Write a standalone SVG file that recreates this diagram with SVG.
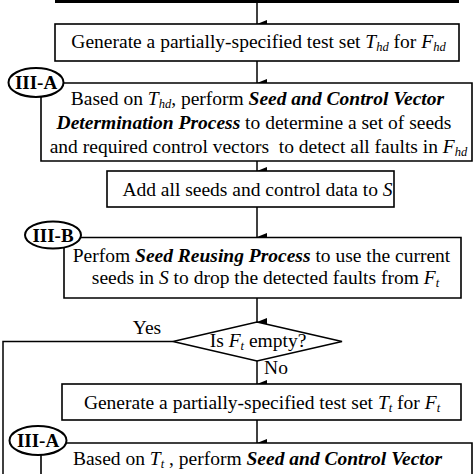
<svg xmlns="http://www.w3.org/2000/svg" width="474" height="474" viewBox="0 0 474 474">
<defs>
<marker id="ah" viewBox="0 0 8 10" refX="4" refY="10" markerWidth="8" markerHeight="10" markerUnits="userSpaceOnUse" orient="auto-start-reverse">
<path d="M0,0 L8,0 L4,10 Z" fill="#000"/>
</marker>
</defs>
<style>
.box{fill:#fff;stroke:#000;stroke-width:1.6}
.ln{fill:none;stroke:#000;stroke-width:1.5}
.ell{fill:#fff;stroke:#000;stroke-width:2}
.t{font-family:"Liberation Serif","Times New Roman",serif;font-size:19.5px;fill:#000;text-anchor:middle}
.lb{font-family:"Liberation Serif","Times New Roman",serif;font-size:19px;font-weight:bold;fill:#000;text-anchor:middle}
.i{font-style:italic}
.bi{font-style:italic;font-weight:bold}
.s{font-style:italic;font-size:12.5px}
</style>
<rect x="55" y="0" width="404" height="3" fill="#000"/>
<g id="connectors">
<line class="ln" x1="257" y1="3" x2="257" y2="24" marker-end="url(#ah)"/>
<line class="ln" x1="257" y1="61" x2="257" y2="83" marker-end="url(#ah)"/>
<line class="ln" x1="257" y1="161" x2="257" y2="171" marker-end="url(#ah)"/>
<line class="ln" x1="257" y1="207" x2="257" y2="237" marker-end="url(#ah)"/>
<line class="ln" x1="257" y1="298" x2="257" y2="322" marker-end="url(#ah)"/>
<line class="ln" x1="257" y1="361" x2="257" y2="384" marker-end="url(#ah)"/>
<line class="ln" x1="257" y1="420" x2="257" y2="443" marker-end="url(#ah)"/>
<polyline class="ln" points="173,341.5 3,341.5 3,474"/>
<text class="t" x="147" y="334">Yes</text>
<text class="t" x="276" y="374">No</text>
</g>
<g id="gen-thd">
<rect class="box" x="55" y="24" width="404" height="37"/>
<text class="t" x="258.5" y="48">Generate a partially-specified test set <tspan class="i">T</tspan><tspan class="s" dy="3">hd</tspan><tspan dy="-3"> for </tspan><tspan class="i">F</tspan><tspan class="s" dy="3">hd</tspan></text>
</g>
<g id="scvd-1">
<polyline class="box" points="41,96 41,161 472,161 472,83 62,83"/>
<ellipse class="ell" cx="36" cy="82.5" rx="27.5" ry="14.5"/>
<text class="lb" x="36" y="89">III-A</text>
<text class="t" x="257.5" y="105">Based on <tspan class="i">T</tspan><tspan class="s" dy="3">hd</tspan><tspan dy="-3">, perform </tspan><tspan class="bi">Seed and Control Vector</tspan></text>
<text class="t" x="254" y="129"><tspan class="bi">Determination Process</tspan> to determine a set of seeds</text>
<text class="t" x="258.5" y="153" xml:space="preserve">and required control vectors  to detect all faults in <tspan class="i">F</tspan><tspan class="s" dy="3">hd</tspan></text>
</g>
<g id="add-seeds">
<rect class="box" x="107" y="171" width="287" height="36"/>
<text class="t" x="257.5" y="196">Add all seeds and control data to <tspan class="i">S</tspan></text>
</g>
<g id="seed-reuse">
<polyline class="box" points="64,247 64,298 461,298 461,237.5 80,237.5"/>
<ellipse class="ell" cx="53" cy="235" rx="28" ry="13.5"/>
<text class="lb" x="53" y="242">III-B</text>
<text class="t" x="261.5" y="262">Perfom <tspan class="bi">Seed Reusing Process</tspan> to use the current</text>
<text class="t" x="265.5" y="284">seeds in <tspan class="i">S</tspan> to drop the detected faults from <tspan class="i">F</tspan><tspan class="s" dy="3">t</tspan></text>
</g>
<g id="decision">
<polygon class="box" points="257,322 342,341.5 257,361 173,341.5"/>
<text class="t" x="258" y="347">Is <tspan class="i">F</tspan><tspan class="s" dy="3">t</tspan><tspan dy="-3"> empty?</tspan></text>
</g>
<g id="gen-tt">
<rect class="box" x="62" y="384" width="399" height="36"/>
<text class="t" x="262" y="409">Generate a partially-specified test set <tspan class="i">T</tspan><tspan class="s" dy="3">t</tspan><tspan dy="-3"> for </tspan><tspan class="i">F</tspan><tspan class="s" dy="3">t</tspan></text>
</g>
<g id="scvd-2">
<polyline class="box" points="41,454 41,476 472,476 472,443 66,443"/>
<ellipse class="ell" cx="38" cy="440.5" rx="28.5" ry="14.5"/>
<text class="lb" x="38" y="447">III-A</text>
<text class="t" x="257.5" y="465">Based on <tspan class="i">T</tspan><tspan class="s" dy="3">t</tspan><tspan dy="-3"> , perform </tspan><tspan class="bi">Seed and Control Vector</tspan></text>
</g>
</svg>
